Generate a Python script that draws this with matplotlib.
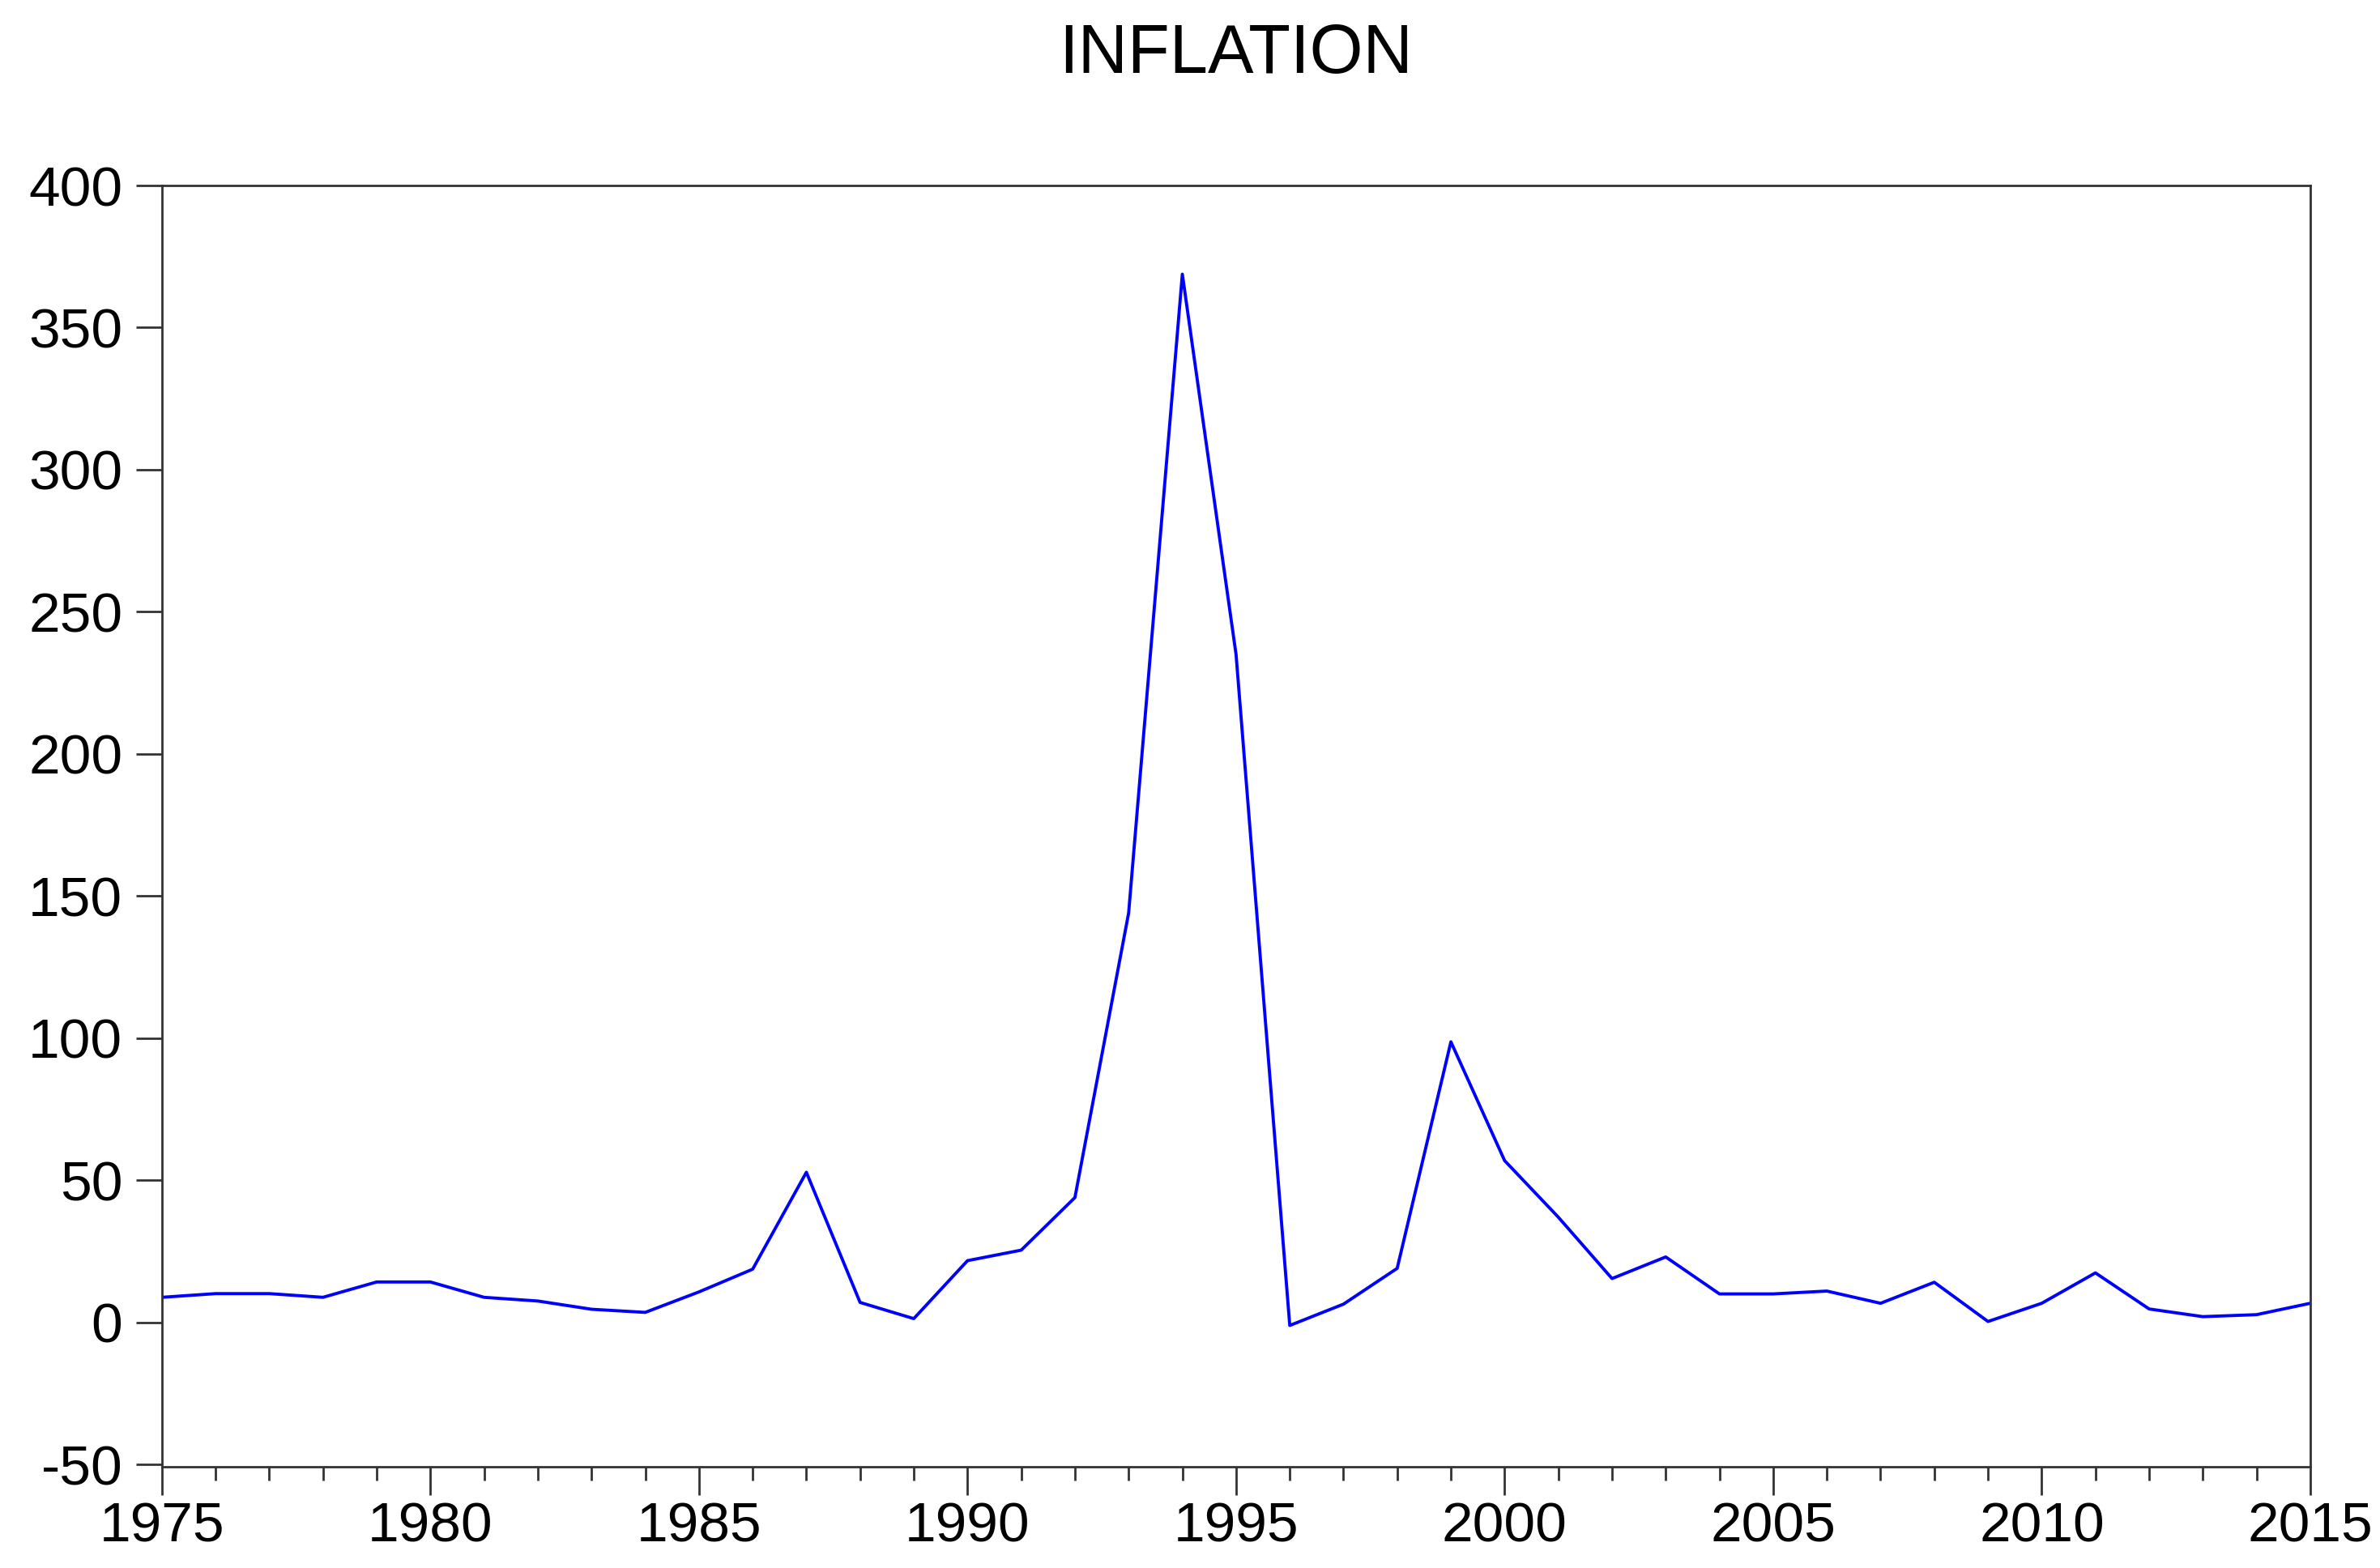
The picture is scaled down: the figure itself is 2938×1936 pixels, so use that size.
import matplotlib
matplotlib.use("Agg")
import matplotlib.pyplot as plt
from matplotlib.ticker import MultipleLocator

years = list(range(1975, 2016))
inflation = [8.8, 10.1, 10.1, 8.8, 14.2, 14.2, 8.8, 7.5, 4.6, 3.5,
             10.7, 18.7, 52.8, 7.0, 1.3, 21.7, 25.4, 43.9, 144.0, 368.8,
             235.0, -1.1, 6.4, 19.0, 98.7, 56.9, 37.0, 15.4, 23.0, 10.0,
             10.0, 11.0, 6.7, 14.1, 0.3, 6.7, 17.4, 4.7, 2.0, 2.7, 6.7]
title = "INFLATION"
yticks = [-50, 0, 50, 100, 150, 200, 250, 300, 350, 400]
xticks = [1975, 1980, 1985, 1990, 1995, 2000, 2005, 2010, 2015]

plt.rcParams['font.family'] = ['Liberation Sans', 'DejaVu Sans']

fig = plt.figure(figsize=(29.38, 19.36), dpi=100)
ax = fig.add_axes([0.068, 0.0646, 0.9027, 0.8171])
ax.plot(years, inflation, color='#0000FF', linewidth=2.8)
ax.set_xlim(1975, 2015)
ax.set_ylim(-50.8, 400)
ax.set_yticks(yticks)
ax.set_yticklabels([str(v) for v in yticks])
ax.set_xticks(xticks)
ax.set_xticklabels([str(v) for v in xticks])
ax.xaxis.set_minor_locator(MultipleLocator(1))
for s in ax.spines.values():
    s.set_color('#333333')
    s.set_linewidth(2.0)
ax.tick_params(axis='y', which='major', direction='out', length=23, width=2.0,
               color='#333333', labelsize=50, pad=12, right=False)
ax.tick_params(axis='x', which='major', direction='out', length=25, width=2.0,
               color='#333333', labelsize=50, pad=6, top=False)
ax.tick_params(axis='x', which='minor', direction='out', length=12, width=2.0,
               color='#333333', top=False)
ax.set_title(title, fontsize=61, pad=100)
fig.savefig("out.png", dpi=100, facecolor='white')
